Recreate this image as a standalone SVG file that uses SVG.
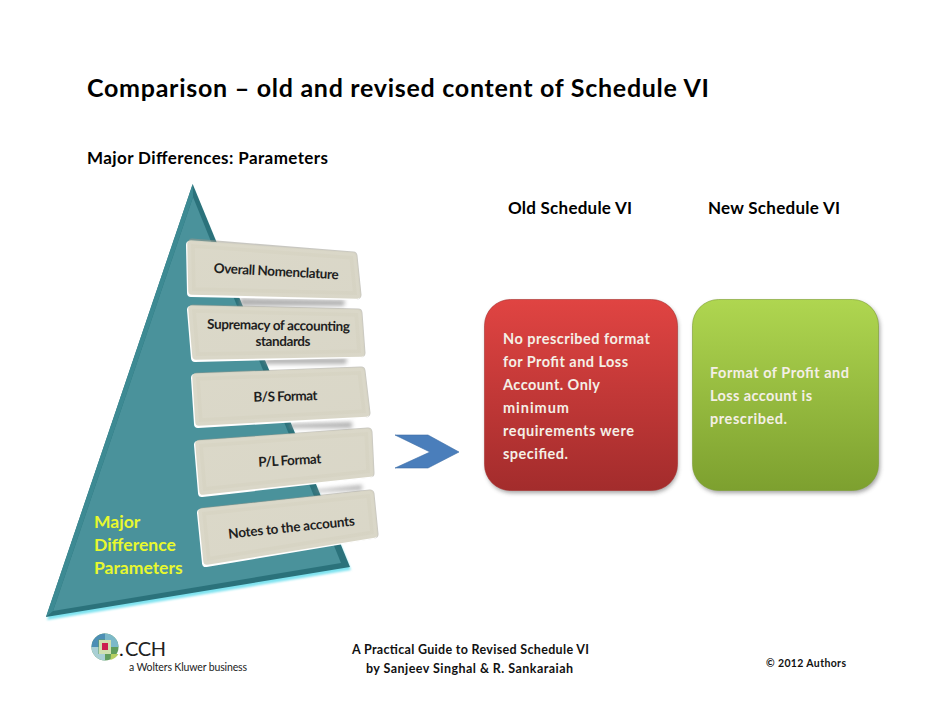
<svg xmlns="http://www.w3.org/2000/svg" width="942" height="728" viewBox="0 0 942 728">
<style>
text{font-family:"Lato","Liberation Sans",sans-serif;font-weight:700}
.h{fill:#000}
.w{fill:#f4efe6;font-size:14.5px}
.c{fill:#1f1f1f;font-size:13.500px;text-anchor:middle}
.y{fill:#e8f82e;font-size:17.5px}
.f{fill:#111;font-size:12.500px}
.rim{fill:#fff;stroke:#fff;stroke-width:8;stroke-linejoin:round}
.edge{fill:none;stroke:#9a998e;stroke-width:9;stroke-linejoin:round;opacity:.55}
.card{fill:url(#card);stroke:url(#card);stroke-width:7.500;stroke-linejoin:round;fill-opacity:.92;stroke-opacity:.92}
</style>
<defs>
<linearGradient id="card" gradientUnits="objectBoundingBox" x1="0" y1="0" x2="1" y2="1"><stop offset="0" stop-color="#d8d5c4"/><stop offset="1" stop-color="#d6d3c3"/></linearGradient>
<linearGradient id="red" x1="0" y1="0" x2="0" y2="1"><stop offset="0" stop-color="#e04442"/><stop offset="1" stop-color="#a32c2c"/></linearGradient>
<linearGradient id="green" x1="0" y1="0" x2="0" y2="1"><stop offset="0" stop-color="#afd650"/><stop offset="1" stop-color="#7da02f"/></linearGradient>
<filter id="s" x="-10%" y="-10%" width="120%" height="120%"><feGaussianBlur stdDeviation="2"/></filter>
<filter id="t" x="-10%" y="-10%" width="120%" height="120%"><feGaussianBlur stdDeviation=".8"/></filter>
</defs>
<rect width="942" height="728" fill="#fff"/>
<text class="h" x="87" y="97" font-size="25" textLength="622">Comparison – old and revised content of Schedule VI</text>
<text class="h" x="87" y="164" font-size="17" textLength="241">Major Differences: Parameters</text>
<text class="h" x="508" y="214" font-size="17" textLength="124">Old Schedule VI</text>
<text class="h" x="708" y="214" font-size="17" textLength="132">New Schedule VI</text>

<g id="pyramid">
<polygon points="47,620 351,570 193,190" fill="#7fe3f0" filter="url(#t)"/>
<polygon points="46,617 350,567 192.700,184" fill="#2b727b"/>
<polygon points="53,611 341,563 193,197" fill="#4a929b"/>
<polygon points="46,617 53,611 193,197 192.700,184" fill="#3d8a93"/>
<text class="y" x="94" y="528">Major</text>
<text class="y" x="94" y="551">Difference</text>
<text class="y" x="94" y="574">Parameters</text>
</g>

<g id="card-shadows" fill="#8f8f8f" opacity=".7" filter="url(#s)">
<polygon points="240,298 345,300 344,306 240,306"/>
<polygon points="265,358 347,358 346,364 265,364"/>
<polygon points="290,424 352,422 352,428 290,428"/>
<polygon points="315,490 362,485 362,490 315,492"/>
</g>
<g id="node-1">
<polygon class="edge" points="192,243 353,256 357,295 193,291"/>
<polygon class="rim" points="190,245 352,257 356,296 191,293"/>
<polygon class="card" points="191,244 353,256 357,295 192,291"/>
<text class="c" transform="translate(276,276) rotate(3)" textLength="125">Overall Nomenclature</text>
</g>
<g id="node-2">
<polygon class="edge" points="193,309 358,313 361,353 197,356"/>
<polygon class="rim" points="191,310 357,314 360,354 195,358"/>
<polygon class="card" points="192,309 358,313 361,353 196,356"/>
<text class="c" transform="translate(278.500,330) rotate(1)" textLength="143">Supremacy of accounting</text>
<text class="c" transform="translate(283,346)" textLength="55">standards</text>
</g>
<g id="node-3">
<polygon class="edge" points="197,377 361,371 366,413 200,422"/>
<polygon class="rim" points="195,378 360,372 365,414 198,424"/>
<polygon class="card" points="196,377 361,371 366,413 199,422"/>
<text class="c" transform="translate(285.500,401) rotate(-1.500)" textLength="64">B/S Format</text>
</g>
<g id="node-4">
<polygon class="edge" points="200,444 368,432 370,473 204,491"/>
<polygon class="rim" points="198,445 367,433 369,474 202,493"/>
<polygon class="card" points="199,444 368,432 370,473 203,491"/>
<text class="c" transform="translate(290,465) rotate(-3)" textLength="63">P/L Format</text>
</g>
<g id="node-5">
<polygon class="edge" points="203,512 370,494 374,534 208,561"/>
<polygon class="rim" points="201,513 369,495 373,535 206,563"/>
<polygon class="card" points="202,512 370,494 374,534 207,561"/>
<text class="c" transform="translate(292,532) rotate(-6)" textLength="127">Notes to the accounts</text>
</g>

<g id="connectors">
<polygon id="chevron" points="395,435 428,435 459,452 428,468 395,468 430,452" fill="#4a7ebb" stroke="#3d6da6" stroke-width=".6"/>
</g>

<g id="node-old">
<rect x="486" y="302" width="192" height="191" rx="26" fill="#666" opacity=".6" filter="url(#s)"/>
<rect x="484.500" y="299.500" width="193" height="191" rx="26" fill="url(#red)" stroke="#a8302f" stroke-opacity=".6"/>
<text class="w" x="503" y="344" textLength="147">No prescribed format</text>
<text class="w" x="503" y="367" textLength="125">for Profit and Loss</text>
<text class="w" x="503" y="390" textLength="97">Account. Only</text>
<text class="w" x="503" y="413" textLength="66">minimum</text>
<text class="w" x="503" y="436" textLength="131">requirements were</text>
<text class="w" x="503" y="459" textLength="65">specified.</text>
</g>
<g id="node-new">
<rect x="694" y="302" width="186" height="191" rx="26" fill="#666" opacity=".6" filter="url(#s)"/>
<rect x="692.500" y="299.500" width="186" height="191" rx="26" fill="url(#green)" stroke="#7c9e30" stroke-opacity=".6"/>
<text class="w" x="710" y="378" textLength="139">Format of Profit and</text>
<text class="w" x="710" y="401" textLength="102">Loss account is</text>
<text class="w" x="710" y="424" textLength="77">prescribed.</text>
</g>

<g id="logo">
<circle cx="105" cy="647" r="13.500" fill="#5f9d5c"/>
<path d="M105 633.500a13.500 13.500 0 0 1 13.500 13.500h-8v-7h-5.500z" fill="#7cb9c9"/>
<path d="M91.500 647a13.500 13.500 0 0 1 13.500-13.500v6h-6.500v7.500z" fill="#4d8fb5"/>
<path d="M91.500 647h7v7h6.500v6.500a13.500 13.500 0 0 1-13.500-13.500z" fill="#a9cfd4"/>
<path d="M111 654h7.500a13.500 13.500 0 0 1-8 6z" fill="#b5cf62"/>
<rect x="99" y="640" width="12" height="14" fill="#cfe0b0"/>
<rect x="102" y="643" width="6" height="7" fill="#cc1f4f"/>
<text x="119" y="656" font-size="20" style="font-weight:400" fill="#111">.</text>
<text x="125" y="656" font-size="20" style="font-weight:400" fill="#222" textLength="41">CCH</text>
<text x="129" y="671" font-size="10.500" style="font-weight:400" fill="#222" textLength="118">a Wolters Kluwer business</text>
</g>

<g id="footer">
<text class="f" x="352" y="654" textLength="237">A Practical Guide to Revised Schedule VI</text>
<text class="f" x="366" y="673" textLength="207">by Sanjeev Singhal &amp; R. Sankaraiah</text>
<text x="766" y="667" style="font-size:10.500px;fill:#111" textLength="80">© 2012 Authors</text>
</g>
</svg>
